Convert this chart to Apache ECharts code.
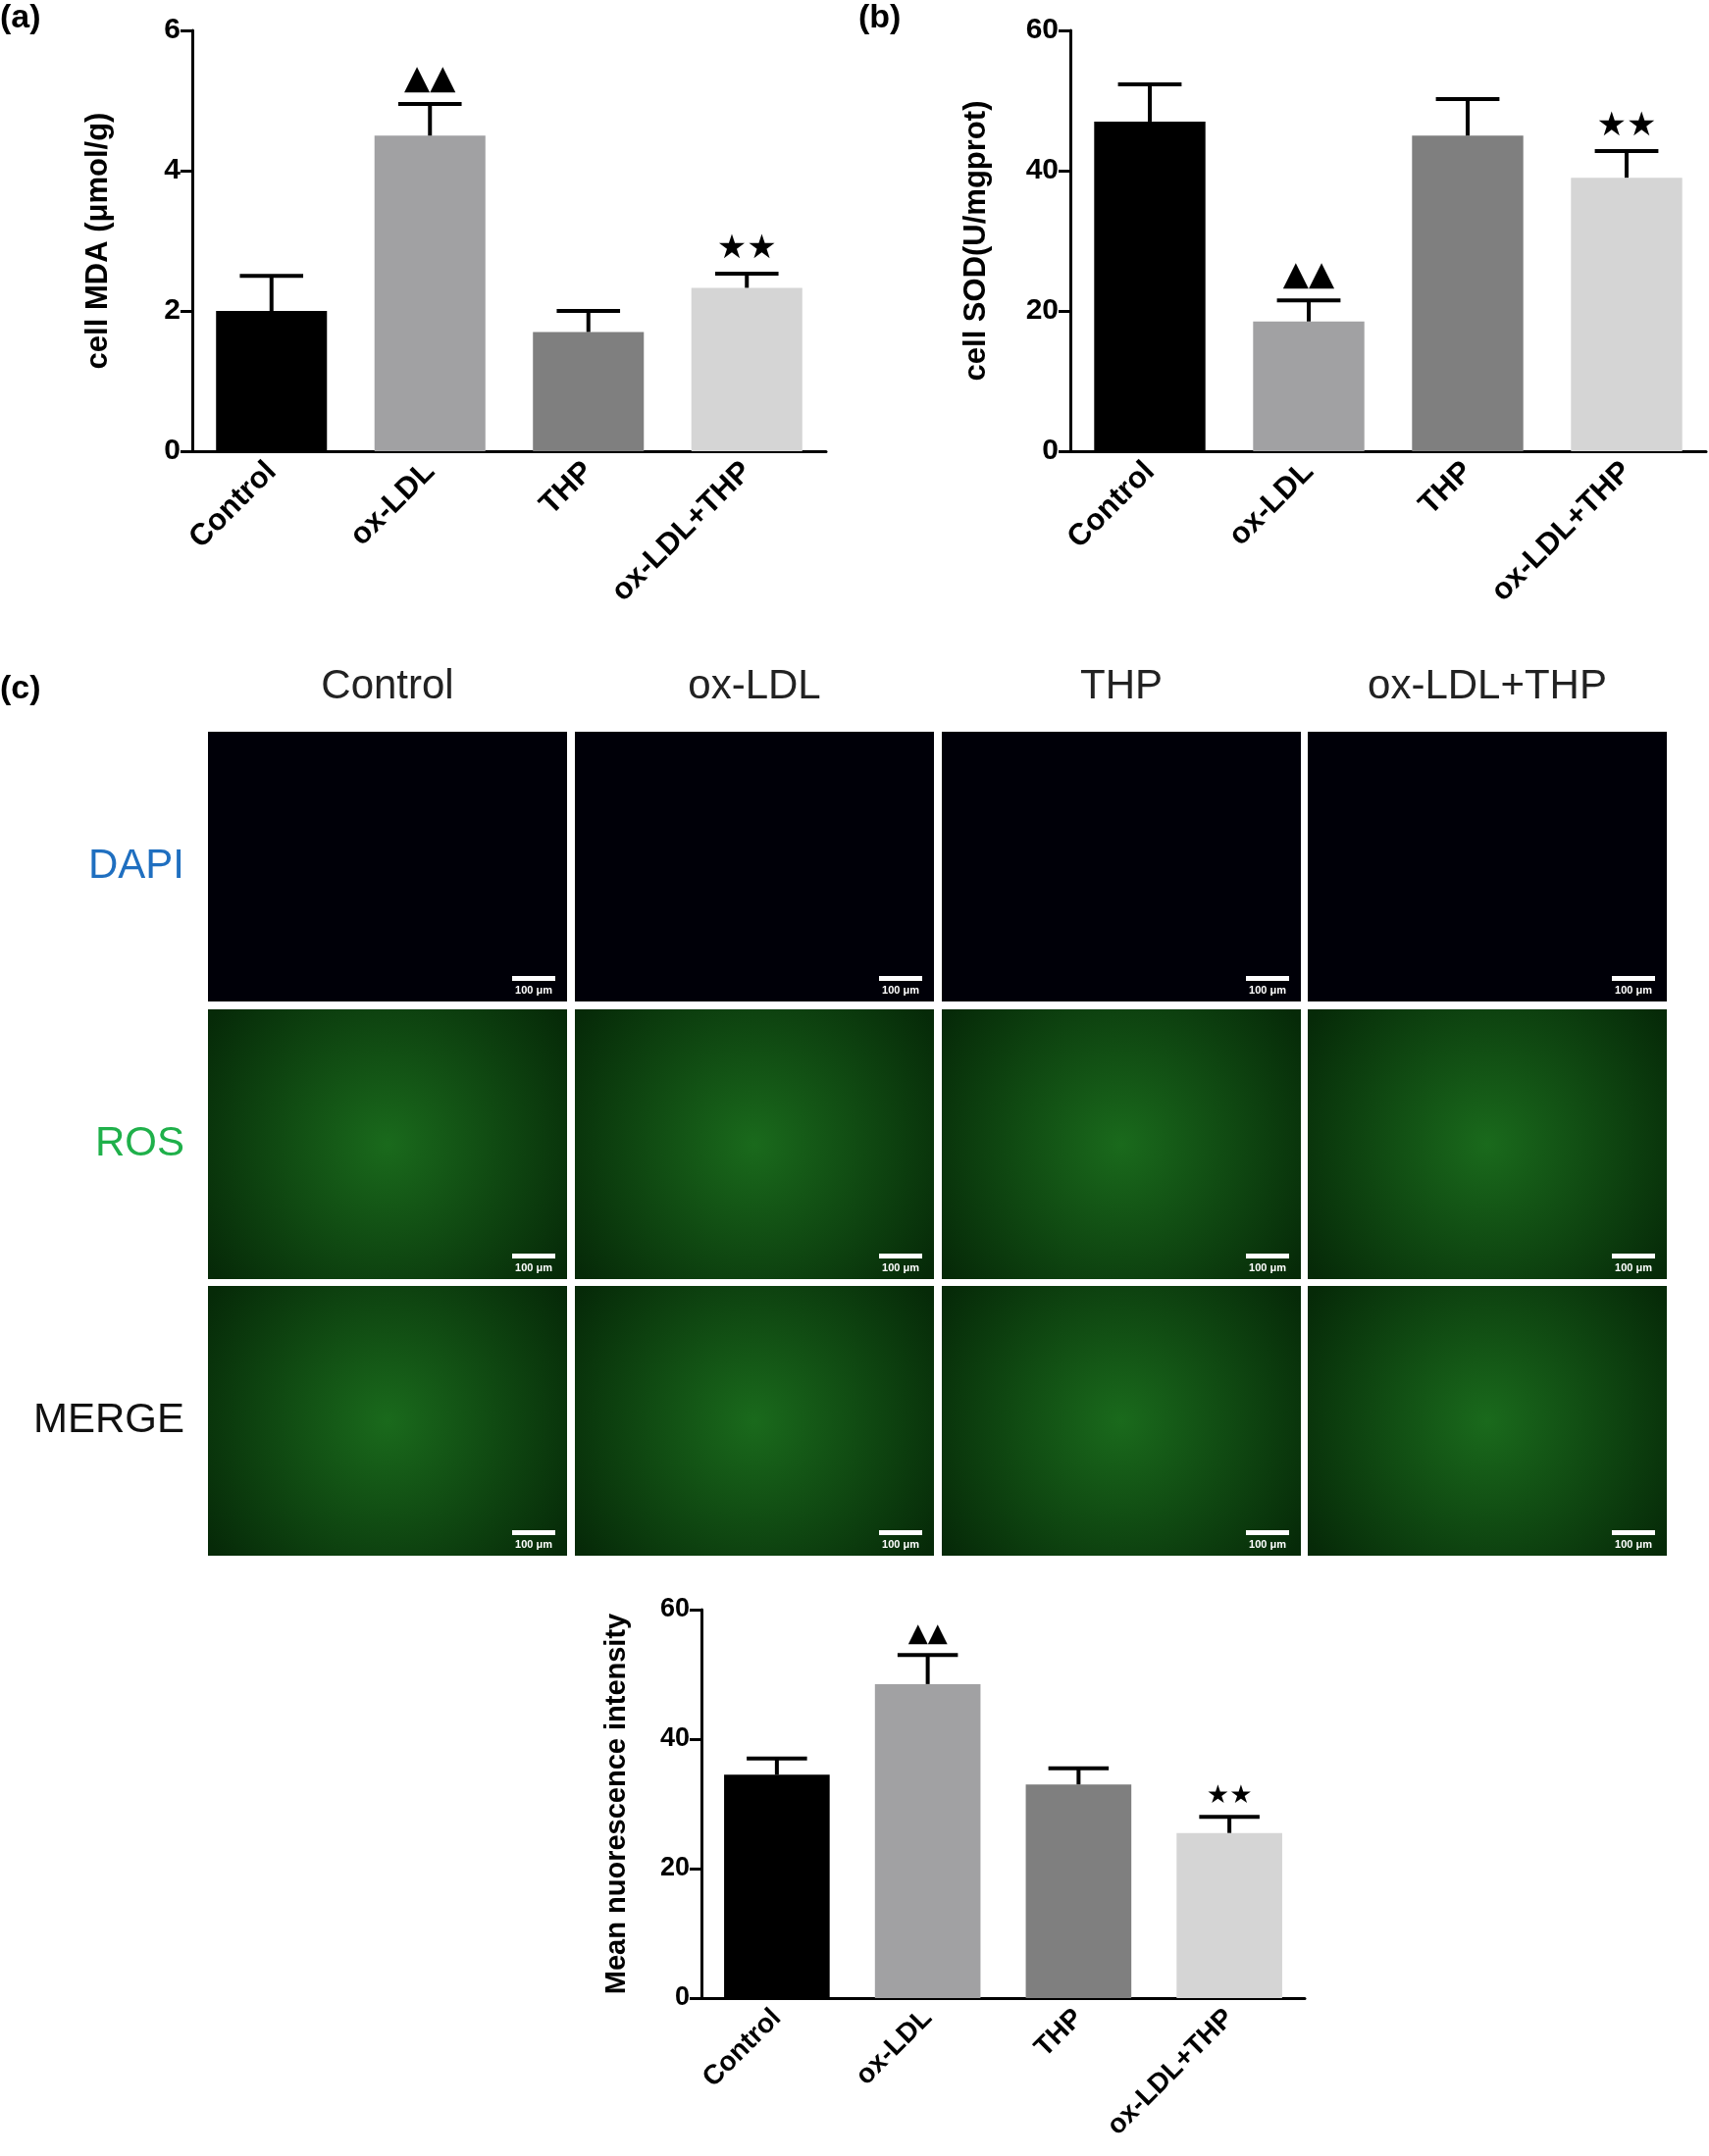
<!DOCTYPE html><html><head><meta charset="utf-8">
<script src="https://cdn.jsdelivr.net/npm/echarts@6/dist/echarts.min.js"></script>
<style>html,body{margin:0;background:#fff}#c{width:1742px;height:2198px}</style></head><body><div id="c"></div>
<script>
const categories=['Control','ox-LDL','THP','ox-LDL+THP'];
const mdaVals=[2.0,4.5,1.7,2.33];
const mdaErr=[0.5,0.45,0.3,0.2];
const mdaMarks=['','▲▲','','★★'];
const sodVals=[47,18.5,45,39];
const sodErr=[5.3,3.0,5.2,3.8];
const sodMarks=['','▲▲','','★★'];
const rosVals=[34.5,48.5,33,25.5];
const rosErr=[2.5,4.5,2.5,2.5];
const rosMarks=['','▲▲','','★★'];
const colors=['#000000','#a1a1a3','#7f7f7f','#d5d5d5'];
const rowLabels=['DAPI','ROS','MERGE'];
const rowColors=['#1f6fc0','#1fb04a','#111111'];
const F='Arial, Liberation Sans, sans-serif';
const chart=echarts.init(document.getElementById('c'));
const grids=[{left:196,top:31,width:646,height:429},{left:1091,top:31,width:648,height:429},{left:715,top:1641,width:615,height:396}];
const yCfg=[{max:6,interval:2,name:'cell MDA (μmol/g)'},{max:60,interval:20,name:'cell SOD(U/mgprot)'},{max:60,interval:20,name:'Mean nuorescence intensity'}];
const sets=[[mdaVals,mdaErr,mdaMarks],[sodVals,sodErr,sodMarks],[rosVals,rosErr,rosMarks]];
const xAxis=[],yAxis=[],series=[];
grids.forEach((g,i)=>{
 xAxis.push({type:'category',gridIndex:i,data:categories,axisLine:{lineStyle:{color:'#000',width:3}},axisTick:{alignWithLabel:true,length:12,lineStyle:{width:3,color:'#000'}},axisLabel:{rotate:45,fontSize:i==2?28:31,fontWeight:'bold',color:'#000',fontFamily:F,margin:16}});
 yAxis.push({type:'value',gridIndex:i,min:0,max:yCfg[i].max,interval:yCfg[i].interval,name:yCfg[i].name,nameLocation:'middle',nameGap:i==2?72:80,nameTextStyle:{fontSize:i==2?29:31,fontWeight:'bold',color:'#000',fontFamily:F},axisLine:{show:true,lineStyle:{color:'#000',width:3}},axisTick:{show:true,length:12,lineStyle:{width:3,color:'#000'}},splitLine:{show:false},axisLabel:{fontSize:i==2?27:30,fontWeight:'bold',color:'#000',fontFamily:F,margin:12}});
 const [v,e,m]=sets[i];
 series.push({type:'bar',xAxisIndex:i,yAxisIndex:i,barWidth:'70%',data:v.map((x,k)=>({value:x,itemStyle:{color:colors[k]}}))});
 series.push({type:'custom',xAxisIndex:i,yAxisIndex:i,data:v.map((x,k)=>[k,x,e[k]]),z:5,
  renderItem:(p,api)=>{const k=api.value(0),val=api.value(1),er=api.value(2);
   const b=api.coord([k,val]),t=api.coord([k,val+er]);const hw=api.size([1,0])[0]*0.2;
   const ch=[{type:'line',shape:{x1:b[0],y1:b[1],x2:b[0],y2:t[1]},style:{stroke:'#000',lineWidth:4}},
    {type:'line',shape:{x1:b[0]-hw,y1:t[1],x2:b[0]+hw,y2:t[1]},style:{stroke:'#000',lineWidth:4}}];
   const mk=sets[i][2][k];
   if(mk)ch.push({type:'text',style:{text:mk,x:b[0],y:t[1]-8,align:'center',verticalAlign:'bottom',fontSize:i==2?26:34,fill:'#000',fontFamily:'DejaVu Sans'}});
   return {type:'group',children:ch};}});
});
const graphic=[
 {type:'text',left:0,top:2,style:{text:'(a)',fontSize:34,fontWeight:'bold',fill:'#000',fontFamily:F}},
 {type:'text',left:875,top:2,style:{text:'(b)',fontSize:34,fontWeight:'bold',fill:'#000',fontFamily:F}},
 {type:'text',left:0,top:686,style:{text:'(c)',fontSize:34,fontWeight:'bold',fill:'#000',fontFamily:F}}];
const colX=[212,586,960,1333],colW=366,rowY=[746,1029,1311],rowH=275;
categories.forEach((c,j)=>graphic.push({type:'text',x:colX[j]+colW/2,y:700,style:{text:c,fontSize:42,fill:'#222',fontFamily:F,align:'center',verticalAlign:'middle'}}));
rowLabels.forEach((r,i)=>{
 graphic.push({type:'text',x:188,y:rowY[i]+rowH/2,style:{text:r,fontSize:42,fill:rowColors[i],fontFamily:F,align:'right',verticalAlign:'middle'}});
 colX.forEach(x=>{
  graphic.push({type:'rect',shape:{x:x,y:rowY[i],width:colW,height:rowH},style:{fill:i==0?'#000008':{type:'radial',x:0.5,y:0.5,r:0.8,colorStops:[{offset:0,color:'#1a6a1c'},{offset:1,color:'#062a08'}]}}});
  graphic.push({type:'rect',shape:{x:x+colW-56,y:rowY[i]+rowH-26,width:44,height:5},style:{fill:'#fff'}});
  graphic.push({type:'text',x:x+colW-34,y:rowY[i]+rowH-17,style:{text:'100 μm',fontSize:11,fontWeight:'bold',fill:'#fff',align:'center',verticalAlign:'top',fontFamily:F}});
 });
});
chart.setOption({animation:false,grid:grids,xAxis,yAxis,series,graphic});
</script></body></html>
